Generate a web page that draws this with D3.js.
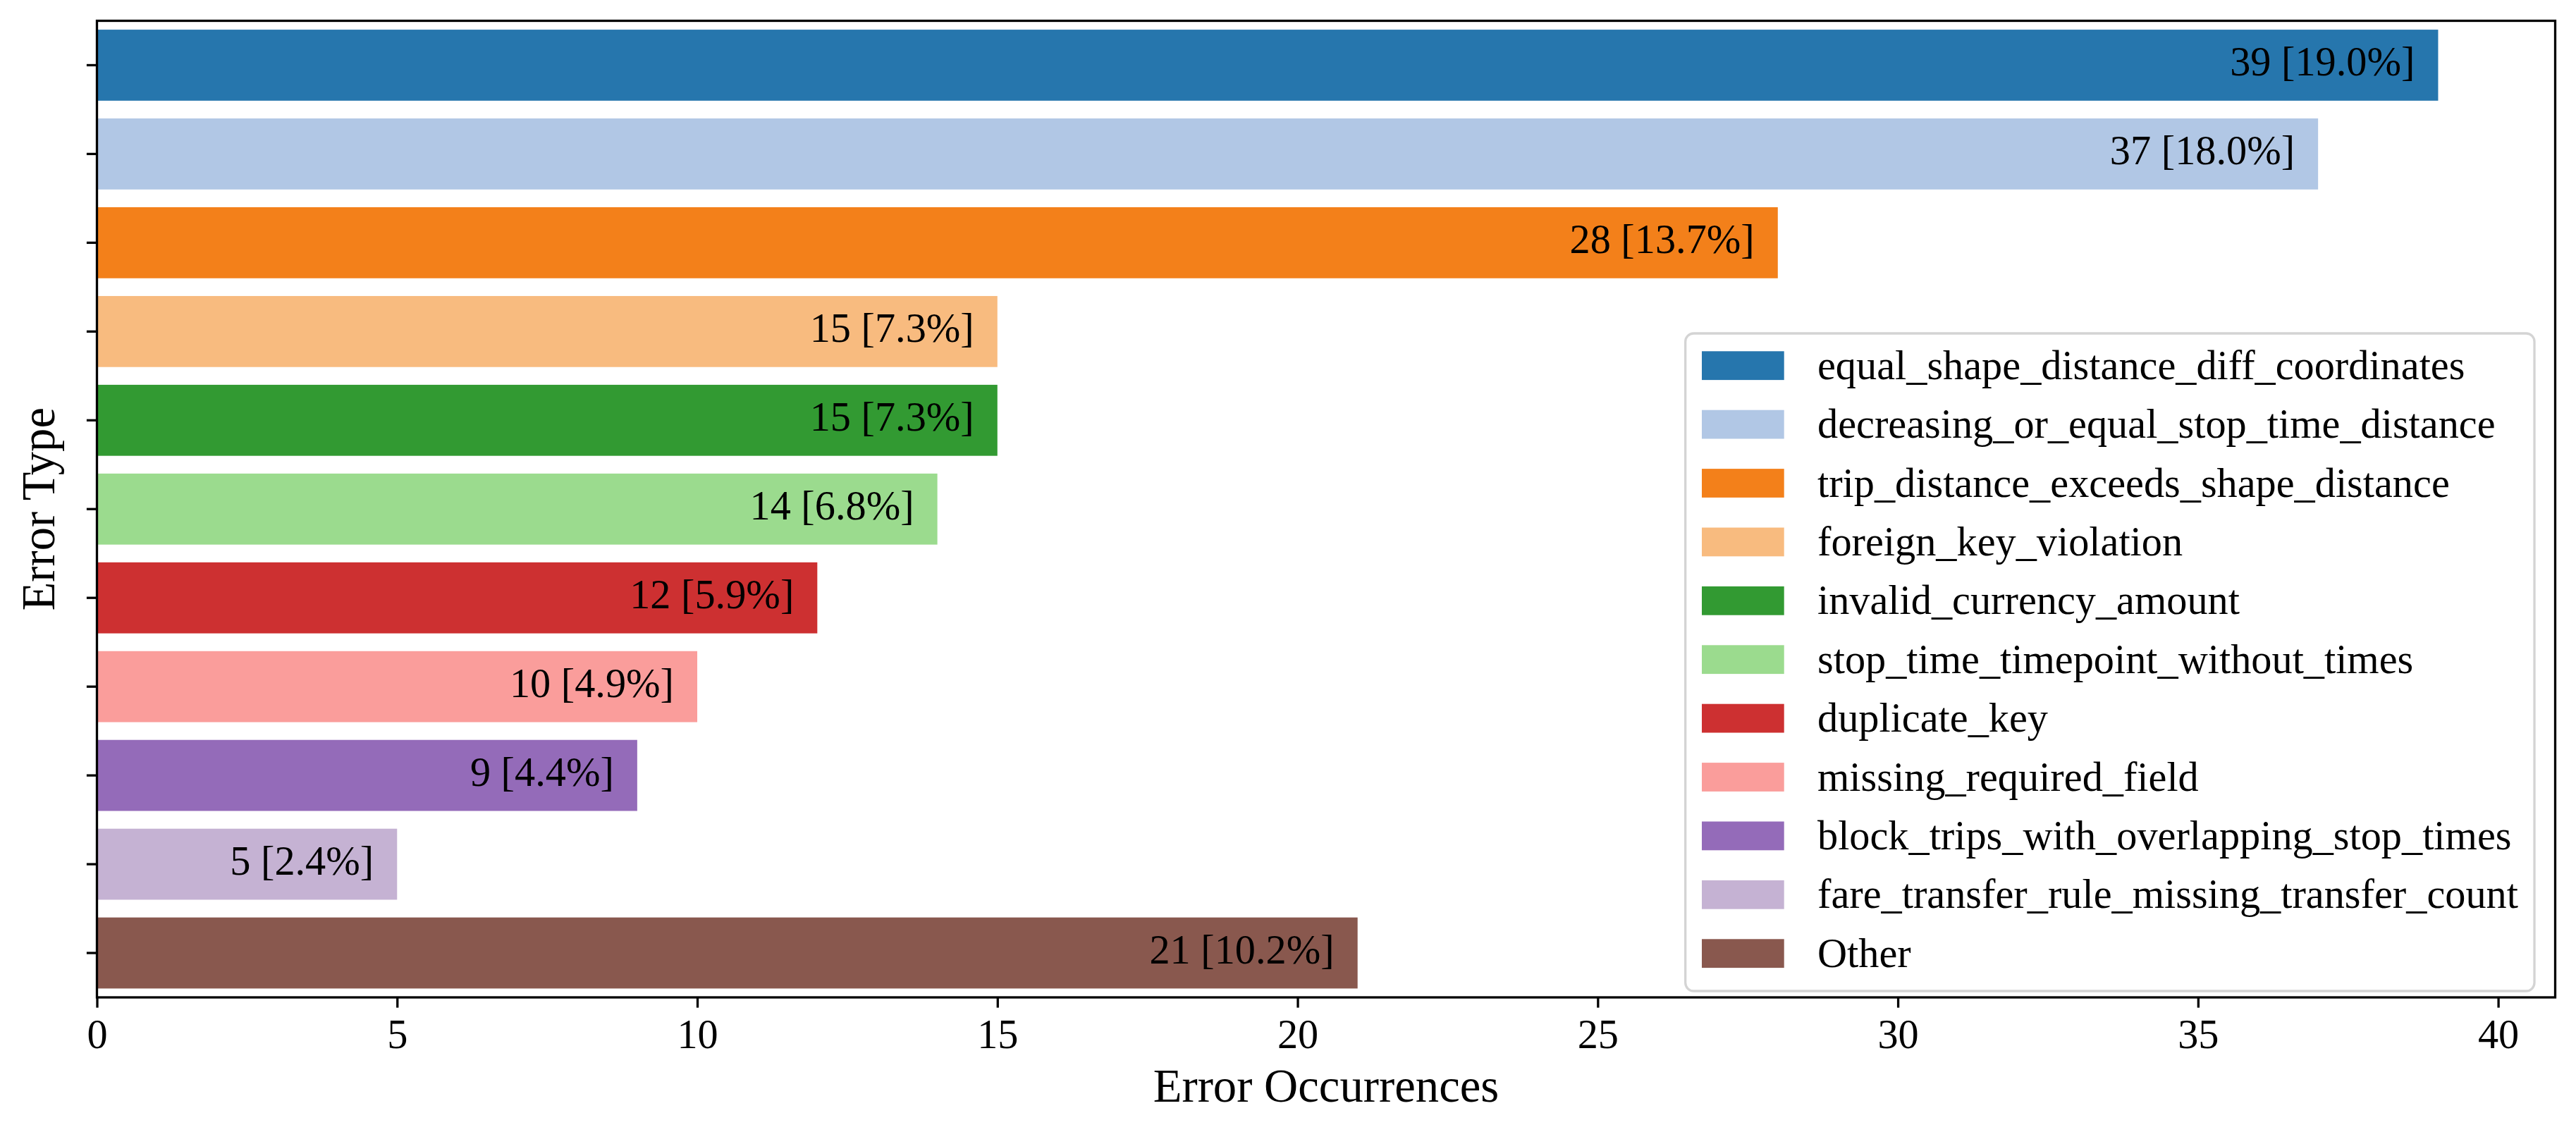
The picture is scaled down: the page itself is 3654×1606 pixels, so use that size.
<!DOCTYPE html>
<html>
<head>
<meta charset="utf-8">
<script src="https://cdn.jsdelivr.net/npm/d3@7"></script>
<style>
  body { margin: 0; background: #fff; }
  text { font-family: "Liberation Serif", "Times New Roman", serif; }
</style>
</head>
<body>
<script>
// error types, in plotted order (top to bottom)
const categories = [
    "equal_shape_distance_diff_coordinates",
    "decreasing_or_equal_stop_time_distance",
    "trip_distance_exceeds_shape_distance",
    "foreign_key_violation",
    "invalid_currency_amount",
    "stop_time_timepoint_without_times",
    "duplicate_key",
    "missing_required_field",
    "block_trips_with_overlapping_stop_times",
    "fare_transfer_rule_missing_transfer_count",
    "Other"
];
const counts = [39, 37, 28, 15, 15, 14, 12, 10, 9, 5, 21];
const xTicks = [0, 5, 10, 15, 20, 25, 30, 35, 40];

// tab20 palette, first 11 colours
const baseColors = ["#1f77b4", "#aec7e8", "#ff7f0e", "#ffbb78", "#2ca02c", "#98df8a",
    "#d62728", "#ff9896", "#9467bd", "#c5b0d5", "#8c564b"];

//Define SVG width and height
let fullSVGWidth = 3654;
let fullSVGHeight = 1606;

let plot = { left: 137.5, right: 3624.5, top: 29.5, bottom: 1415 };

let tickFont = 58.3;
let labelFont = 66.7;

// seaborn-ish desaturation
let colors = baseColors.map(function(c) {
    let h = d3.hsl(c);
    h.s *= 0.9;
    return h.formatHex();
});
let color = d3.scaleOrdinal().domain(categories).range(colors);

let total = d3.sum(counts);
let data = categories.map(function(c, i) {
    return { name: c, value: counts[i], pct: (counts[i] / total * 100).toFixed(1) };
});

let x = d3.scaleLinear()
    .domain([0, d3.max(counts) * 1.05])
    .range([plot.left, plot.right]);

let y = d3.scaleBand()
    .domain(categories)
    .range([plot.top, plot.bottom])
    .paddingInner(0.2)
    .paddingOuter(0.1);

let svg = d3.select("body")
    .append("svg")
    .attr("width", fullSVGWidth)
    .attr("height", fullSVGHeight);

// bars
svg.selectAll("rect.bar")
    .data(data)
    .enter()
    .append("rect")
    .attr("class", "bar")
    .attr("x", x(0))
    .attr("y", function(d) { return y(d.name); })
    .attr("width", function(d) { return x(d.value) - x(0); })
    .attr("height", y.bandwidth())
    .attr("fill", function(d) { return color(d.name); });

// bar labels, inside the bar end
svg.selectAll("text.barlabel")
    .data(data)
    .enter()
    .append("text")
    .attr("class", "barlabel")
    .attr("x", function(d) { return x(d.value) - 33; })
    .attr("y", function(d) { return y(d.name) + y.bandwidth() / 2 + tickFont * 0.25; })
    .attr("text-anchor", "end")
    .style("font-size", tickFont + "px")
    .style("fill", "#000")
    .text(function(d) { return d.value + " [" + d.pct + "%]"; });

// y axis ticks (no labels)
let yAxis = svg.append("g")
    .attr("transform", "translate(" + plot.left + ",0)")
    .call(d3.axisLeft(y).tickSize(14.6).tickFormat(""));
yAxis.select(".domain").remove();
yAxis.selectAll("line").attr("stroke", "#000").attr("stroke-width", 3.3);

// x axis
let xAxis = svg.append("g")
    .attr("transform", "translate(0," + plot.bottom + ")")
    .call(d3.axisBottom(x).tickValues(xTicks).tickSize(14.6).tickPadding(16));
xAxis.select(".domain").remove();
xAxis.selectAll("line").attr("stroke", "#000").attr("stroke-width", 3.3);
xAxis.selectAll("text")
    .style("font-size", tickFont + "px")
    .style("font-family", "'Liberation Serif', serif")
    .attr("fill", "#000");

// frame
svg.append("rect")
    .attr("x", plot.left)
    .attr("y", plot.top)
    .attr("width", plot.right - plot.left)
    .attr("height", plot.bottom - plot.top)
    .attr("fill", "none")
    .attr("stroke", "#000")
    .attr("stroke-width", 3.3);

// axis titles
svg.append("text")
    .attr("x", (plot.left + plot.right) / 2)
    .attr("y", 1563)
    .attr("text-anchor", "middle")
    .style("font-size", labelFont + "px")
    .text("Error Occurrences");

svg.append("text")
    .attr("transform", "translate(77," + ((plot.top + plot.bottom) / 2) + ") rotate(-90)")
    .attr("text-anchor", "middle")
    .style("font-size", labelFont + "px")
    .text("Error Type");

// legend
let legend = { x: 2390.7, y: 473, w: 1204.3, h: 933, row: 83.4 };

let lg = svg.append("g");
lg.append("rect")
    .attr("x", legend.x)
    .attr("y", legend.y)
    .attr("width", legend.w)
    .attr("height", legend.h)
    .attr("rx", 11.7)
    .attr("fill", "#fff")
    .attr("fill-opacity", 0.8)
    .attr("stroke", "#d4d4d4")
    .attr("stroke-width", 3.3);

let items = lg.selectAll("g.item")
    .data(categories)
    .enter()
    .append("g")
    .attr("class", "item")
    .attr("transform", function(d, i) { return "translate(0," + (498.3 + i * legend.row) + ")"; });

items.append("rect")
    .attr("x", 2414)
    .attr("y", 0)
    .attr("width", 116.7)
    .attr("height", 40.8)
    .attr("fill", function(d) { return color(d); });

items.append("text")
    .attr("x", 2578)
    .attr("y", 39.5)
    .style("font-size", tickFont + "px")
    .text(function(d) { return d; });
</script>
</body>
</html>
